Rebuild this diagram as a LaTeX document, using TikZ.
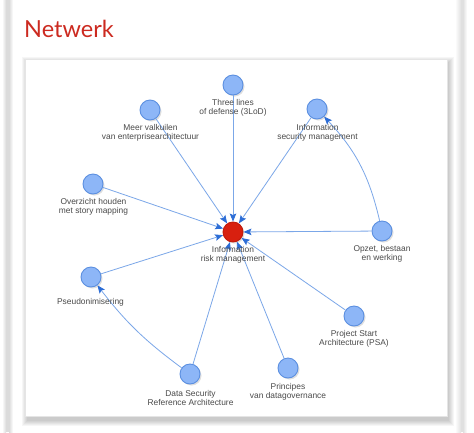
\documentclass[tikz,border=0pt]{standalone}
\usepackage{fontspec}
\setmainfont{Liberation Sans}
\newfontfamily\titlefont{Lato}
\usetikzlibrary{arrows.meta,shadows}
\definecolor{nodefill}{HTML}{8DB6F7}
\definecolor{nodeline}{HTML}{5B8FE0}
\definecolor{edgecol}{HTML}{7BA7E8}
\definecolor{tipcol}{HTML}{2C6DD6}
\definecolor{redfill}{HTML}{D8200F}
\definecolor{redline}{HTML}{C01A0A}
\definecolor{txt}{HTML}{4A4A4A}
\definecolor{titlered}{HTML}{CC2A20}
\begin{document}
\begin{tikzpicture}[x=1pt,y=-1pt,
  topic/.style={circle,minimum size=20pt,inner sep=0pt,fill=nodefill,draw=nodeline,line width=0.9pt,
    drop shadow={shadow xshift=1.5pt,shadow yshift=-1.5pt,opacity=0.25}},
  hub/.style={topic,fill=redfill,draw=redline},
  lbl/.style={font=\fontsize{8.4}{9}\selectfont,text=txt,align=center,inner sep=0pt},
  link/.style={draw=edgecol,line width=0.8pt,-{Stealth[length=8pt,width=6.5pt,inset=1.5pt,color=tipcol]}}
]
\useasboundingbox (0,0) rectangle (474,432);
\fill[white] (0,0) rectangle (474,432);
% outer card edges
\shade[left color=white,right color=black!14] (2,0) rectangle (6,432);
\fill[black!14] (6,0) rectangle (9,432);
\shade[left color=black!14,right color=white] (9,0) rectangle (13,432);
\shade[left color=white,right color=black!12] (455,0) rectangle (461,432);
\fill[black!12] (461,0) rectangle (463,432);
\shade[left color=black!12,right color=white] (463,0) rectangle (467,432);
% inner panel shadow
\foreach \i in {0,1,2,3,4,5}{
  \fill[black,opacity=0.035] (27-\i,62-\i) rectangle (449+\i,421+\i);
}
\fill[white,draw=black!10,line width=0.5pt] (25,59) rectangle (447,416);
% title
\node[anchor=base west,inner sep=0pt,font=\titlefont\fontsize{23.5}{24}\selectfont,text=titlered] (title) at (24,37) {Netwerk};
% nodes
\node[hub]   (irm)  at (233,232) {};
\node[topic] (three) at (233,85) {};
\node[topic] (meer) at (150,110) {};
\node[topic] (over) at (93,184) {};
\node[topic] (ism)  at (317,109) {};
\node[topic] (opz)  at (382,231) {};
\node[topic] (pse)  at (91,277) {};
\node[topic] (dsra) at (190,374) {};
\node[topic] (prin) at (288,368) {};
\node[topic] (psa)  at (354,316) {};
% edges
\draw[link] (three) -- (irm);
\draw[link] (meer) -- (irm);
\draw[link] (over) -- (irm);
\draw[link] (ism) -- (irm);
\draw[link] (opz) -- (irm);
\draw[link] (pse) -- (irm);
\draw[link] (dsra) -- (irm);
\draw[link] (prin) -- (irm);
\draw[link] (psa) -- (irm);
\draw[link] (opz) to[bend right=15] (ism);
\draw[link] (dsra) to[bend left=8] (pse);
% labels
\node[lbl] (l-three) at (233,107.5) {Three lines\\of defense (3LoD)};
\node[lbl] (l-meer) at (150.5,133) {Meer valkuilen\\van enterprisearchitectuur};
\node[lbl] (l-over) at (93.5,207) {Overzicht houden\\met story mapping};
\node[lbl] (l-irm) at (233,255) {Information\\risk management};
\node[lbl] (l-ism) at (317.5,132.5) {Information\\security management};
\node[lbl] (l-opz) at (382,254) {Opzet, bestaan\\en werking};
\node[lbl] (l-pse) at (90.5,302.5) {Pseudonimisering};
\node[lbl] (l-dsra) at (190.5,397.5) {Data Security\\Reference Architecture};
\node[lbl] (l-prin) at (288,391.5) {Principes\\van datagovernance};
\node[lbl] (l-psa) at (354,338.5) {Project Start\\Architecture (PSA)};
\end{tikzpicture}
\end{document}
